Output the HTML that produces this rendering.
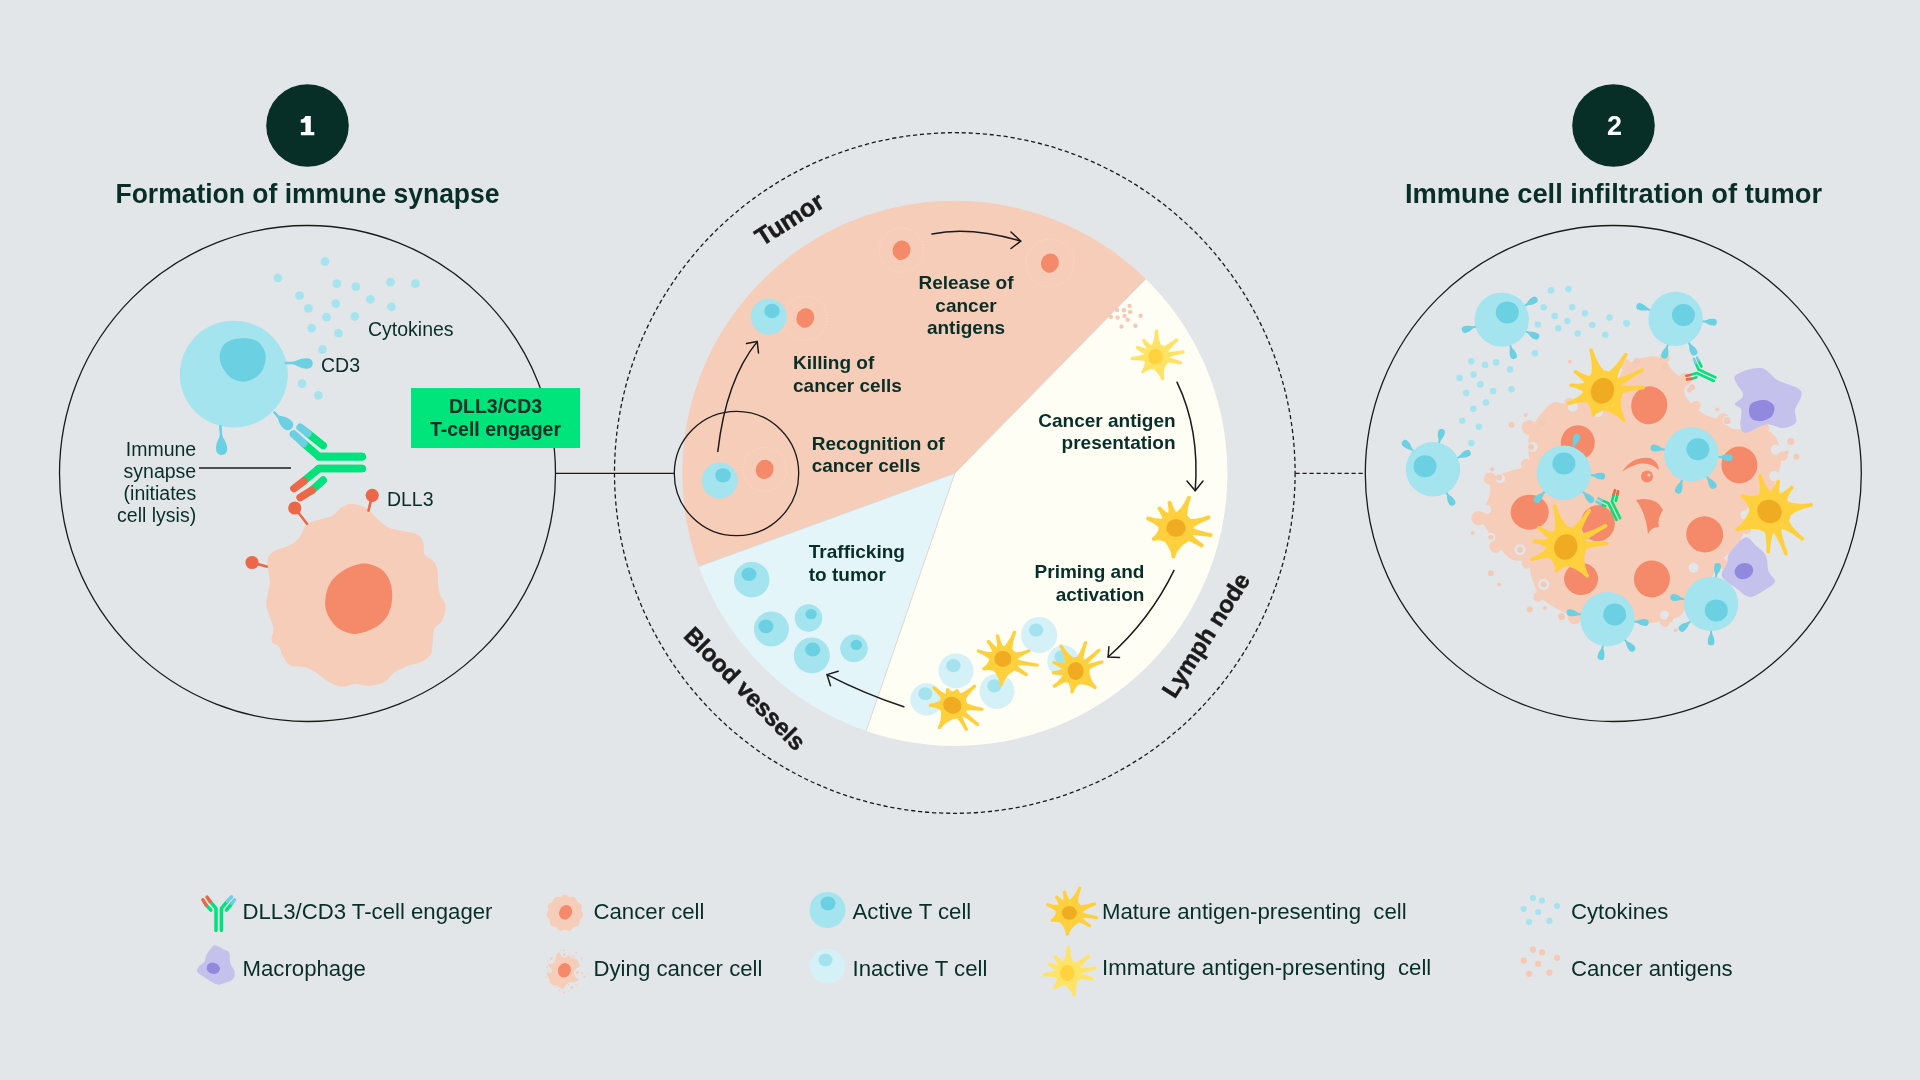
<!DOCTYPE html>
<html><head><meta charset="utf-8"><title>Immune synapse</title>
<style>html,body{margin:0;padding:0;background:#e3e6e9;}svg{display:block;font-family:"Liberation Sans",sans-serif;will-change:transform;}</style>
</head><body>
<svg width="1920" height="1080" viewBox="0 0 1920 1080">
<rect width="1920" height="1080" fill="#e3e6e9"/>
<circle cx="307.5" cy="125.5" r="41.3" fill="#082e28"/>
<path d="M305.4 115.9 L310.8 115.9 L310.8 131.9 L314.3 131.9 L314.3 135.2 L300.9 135.2 L300.9 131.9 L305.4 131.9 L305.4 122.6 Q302.8 122.9 300.8 122.8 L300.8 119.4 Q304.2 119.2 305.4 115.9 Z" fill="#ffffff"/>
<text x="307.5" y="203.3" font-size="27.5" font-weight="bold" text-anchor="middle" fill="#082e28" textLength="384" lengthAdjust="spacingAndGlyphs">Formation of immune synapse</text>
<circle cx="1613.5" cy="125.5" r="41.3" fill="#082e28"/>
<text x="1614.5" y="135" font-size="27" font-weight="bold" text-anchor="middle" fill="#ffffff">2</text>
<text x="1613.5" y="203.3" font-size="27.5" font-weight="bold" text-anchor="middle" fill="#082e28" textLength="417" lengthAdjust="spacingAndGlyphs">Immune cell infiltration of tumor</text>
<circle cx="307.5" cy="473.5" r="248" fill="none" stroke="#1a1a1a" stroke-width="1.3"/>
<circle cx="1613.3" cy="473.5" r="248" fill="none" stroke="#1a1a1a" stroke-width="1.3"/>
<line x1="555.5" y1="473.3" x2="674.3" y2="473.3" stroke="#1a1a1a" stroke-width="1.3"/>
<line x1="1295.5" y1="473.3" x2="1365" y2="473.3" stroke="#1a1a1a" stroke-width="1.3" stroke-dasharray="4.2 2.8"/>
<circle cx="954.8" cy="473" r="340.3" fill="none" stroke="#1a1a1a" stroke-width="1.3" stroke-dasharray="4.2 2.8"/>
<path d="M954.8 473.3 L698.7 566.5 A272.5 272.5 0 0 1 1145.8 278.9 Z" fill="#f6cdb9"/>
<path d="M954.8 473.3 L1145.8 278.9 A272.5 272.5 0 0 1 866.1 731 Z" fill="#fefef5"/>
<path d="M954.8 473.3 L866.1 731 A272.5 272.5 0 0 1 698.7 566.5 Z" fill="#e4f5f9"/>
<line x1="954.8" y1="473.3" x2="1145.8" y2="278.9" stroke="#dcd9d2" stroke-width="1"/>
<line x1="954.8" y1="473.3" x2="698.7" y2="566.5" stroke="#dcd9d2" stroke-width="1"/>
<line x1="954.8" y1="473.3" x2="866.1" y2="731" stroke="#dcd9d2" stroke-width="1"/>
<circle cx="736.5" cy="473.5" r="62.2" fill="none" stroke="#1a1a1a" stroke-width="1.3"/>
<path d="M717.8 451.5 Q726 380 757.2 341.6" fill="none" stroke="#1a1a1a" stroke-width="1.5" stroke-linecap="round"/>
<path d="M746.5 343.5 L757.2 341.6 L758.5 353" fill="none" stroke="#1a1a1a" stroke-width="1.5" stroke-linecap="round" stroke-linejoin="round"/>
<path d="M932 234 Q970 226 1020.7 241.1" fill="none" stroke="#1a1a1a" stroke-width="1.5" stroke-linecap="round"/>
<path d="M1011 232 L1020.7 241.1 L1011 248.5" fill="none" stroke="#1a1a1a" stroke-width="1.5" stroke-linecap="round" stroke-linejoin="round"/>
<path d="M1177 382.2 Q1200 430 1195.2 490.7" fill="none" stroke="#1a1a1a" stroke-width="1.5" stroke-linecap="round"/>
<path d="M1187 481 L1195.2 490.7 L1203 481" fill="none" stroke="#1a1a1a" stroke-width="1.5" stroke-linecap="round" stroke-linejoin="round"/>
<path d="M1174 570.4 Q1150 620 1108.1 657" fill="none" stroke="#1a1a1a" stroke-width="1.5" stroke-linecap="round"/>
<path d="M1108.9 646.8 L1108.1 657 L1119.5 657.5" fill="none" stroke="#1a1a1a" stroke-width="1.5" stroke-linecap="round" stroke-linejoin="round"/>
<path d="M903.8 706.8 Q865 694 827 674.6" fill="none" stroke="#1a1a1a" stroke-width="1.5" stroke-linecap="round"/>
<path d="M838.2 671.2 L827 674.6 L830.5 685.7" fill="none" stroke="#1a1a1a" stroke-width="1.5" stroke-linecap="round" stroke-linejoin="round"/>
<circle cx="764.6" cy="469.4" r="22" fill="none" stroke="#fadfd0" stroke-width="0.9" stroke-dasharray="1 2.2"/>
<circle cx="805.3" cy="318" r="22" fill="none" stroke="#fadfd0" stroke-width="0.9" stroke-dasharray="1 2.2"/>
<circle cx="901.5" cy="250.2" r="22" fill="none" stroke="#fadfd0" stroke-width="0.9" stroke-dasharray="1 2.2"/>
<circle cx="1049.9" cy="263.1" r="24" fill="none" stroke="#fadfd0" stroke-width="0.9" stroke-dasharray="1 2.2"/>
<ellipse cx="764.6" cy="469.4" rx="8.8" ry="9.8" fill="#f48a6a" transform="rotate(20 764.6 469.4)"/>
<ellipse cx="805.3" cy="318" rx="8.8" ry="9.8" fill="#f48a6a" transform="rotate(20 805.3 318)"/>
<ellipse cx="901.5" cy="250.2" rx="8.8" ry="9.8" fill="#f48a6a" transform="rotate(20 901.5 250.2)"/>
<ellipse cx="1049.9" cy="263.1" rx="8.8" ry="9.8" fill="#f48a6a" transform="rotate(20 1049.9 263.1)"/>
<circle cx="719.7" cy="480.5" r="18" fill="#a3e4ee"/>
<ellipse cx="723" cy="475.4" rx="7.8" ry="7.2" fill="#6bd0e1"/>
<circle cx="768.7" cy="316.7" r="18" fill="#a3e4ee"/>
<ellipse cx="772" cy="311" rx="7.8" ry="7.2" fill="#6bd0e1"/>
<circle cx="1129.6" cy="305.9" r="2.2" fill="#f4c9b5"/>
<circle cx="1123.9" cy="310.2" r="2.2" fill="#f4c9b5"/>
<circle cx="1130.1" cy="311.9" r="2.2" fill="#f4c9b5"/>
<circle cx="1117.1" cy="309.9" r="2.2" fill="#f4c9b5"/>
<circle cx="1124.5" cy="315.9" r="2.2" fill="#f4c9b5"/>
<circle cx="1117.6" cy="317.6" r="2.2" fill="#f4c9b5"/>
<circle cx="1110.9" cy="316.9" r="2.2" fill="#f4c9b5"/>
<circle cx="1127.6" cy="319.8" r="2.2" fill="#f4c9b5"/>
<circle cx="1140.6" cy="315.7" r="2.2" fill="#f4c9b5"/>
<circle cx="1121.5" cy="326.6" r="2.2" fill="#f4c9b5"/>
<circle cx="1135.4" cy="325.8" r="2.2" fill="#f4c9b5"/>
<path d="M1143.8 353.9C1141.3 351.8 1137.9 349.9 1137 349.4A1.8 1.8 0 0 1 1138.5 346.1C1139.5 346.6 1143.1 348 1146.3 348.6A13 13 0 0 1 1146.3 348.6C1145.1 345.6 1142.9 342.4 1142.3 341.6A1.8 1.8 0 0 1 1145.1 339.4C1145.8 340.2 1148.3 343 1151 344.9A13 13 0 0 1 1152.2 344.4C1154.4 339.4 1154.7 333.7 1154.7 331.2A1.8 1.8 0 0 1 1158.3 331.2C1158.3 333.7 1158.6 339.4 1160.8 344.4A13 13 0 0 1 1164.1 346.1C1168.7 343.9 1173.6 340.2 1175.8 338.5A1.8 1.8 0 0 1 1178.1 341.2C1175.9 343 1171.4 347.1 1168.3 351.2A13 13 0 0 1 1168.5 351.8C1173.6 351.6 1179.8 350.7 1182.6 350.2A1.8 1.8 0 0 1 1183.2 353.8C1180.4 354.3 1174.3 355.6 1169.5 357.2A13 13 0 0 1 1169.5 357.2C1173.5 358.9 1178.6 360.5 1180.7 361A1.8 1.8 0 0 1 1179.8 364.5C1177.7 364 1172.5 362.9 1168.1 362.5A13 13 0 0 1 1165.6 366C1163.3 371.9 1163.8 376.5 1164.3 378.1A1.8 1.8 0 0 1 1160.8 379C1160.4 377.5 1158.5 373.2 1153.5 369.3A13 13 0 0 1 1151.9 368.9C1147.5 369.7 1144.8 372.1 1144.2 372.8A1.8 1.8 0 0 1 1141.6 370.4C1142.2 369.7 1144.4 366.9 1144.8 362.4A13 13 0 0 1 1144.2 360.9C1139.8 360 1134.5 360.1 1132.4 360.3A1.8 1.8 0 0 1 1132.2 356.7C1134.3 356.5 1139.5 355.9 1143.7 354.3A13 13 0 0 1 1143.8 353.9Z" fill="#ffe366"/>
<ellipse cx="1155.5" cy="356.7" rx="7.2" ry="7.9" fill="#ffd23e"/>
<path d="M1158.6 527.4C1154.7 523.6 1149.4 521.3 1147.3 520.5A2.1 2.1 0 0 1 1148.8 516.6C1150.9 517.3 1156.4 519 1161.8 518.7A17.5 17.5 0 0 1 1162.3 518C1161.1 514.3 1158.7 510.8 1158 510A2.1 2.1 0 0 1 1161.3 507.3C1161.9 508.2 1164.9 511.3 1168.3 513.2A17.5 17.5 0 0 1 1168.3 513.2C1168.7 509 1167.9 504.3 1167.6 502.9A2.1 2.1 0 0 1 1171.6 501.9C1172 503.4 1173.4 507.9 1175.7 511.4A17.5 17.5 0 0 1 1177.4 511.5C1182.7 506.7 1185.8 499.9 1187.2 496.7A2.1 2.1 0 0 1 1191 498.3C1189.7 501.6 1187.1 508.5 1187.4 515.7A17.5 17.5 0 0 1 1190.4 519C1197.1 518.9 1204.3 516.6 1207.7 515.4A2.1 2.1 0 0 1 1209.1 519.4C1205.7 520.6 1198.7 523.4 1193.4 527.5A17.5 17.5 0 0 1 1193.5 528.5C1199.5 530.7 1207.3 532.4 1211.1 533.1A2.1 2.1 0 0 1 1210.4 537.2C1206.6 536.5 1198.7 535.4 1192.3 535.3A17.5 17.5 0 0 1 1192.3 535.3C1195.8 538.8 1200.7 542.4 1202.8 543.7A2.1 2.1 0 0 1 1200.5 547.2C1198.5 545.9 1193.2 542.9 1188.5 541.1A17.5 17.5 0 0 1 1183.3 544.8C1177.5 550.3 1175.6 555 1175.5 556.5A2.1 2.1 0 0 1 1171.3 556.1C1171.5 554.6 1170.5 549.6 1165.8 543.1A17.5 17.5 0 0 1 1164 541.6C1158.7 539.5 1155.3 540.5 1154.8 540.8A2.1 2.1 0 0 1 1153.1 536.9C1153.6 536.7 1156.6 534.8 1158.5 529.5A17.5 17.5 0 0 1 1158.6 527.4Z" fill="#ffd03d"/>
<ellipse cx="1176" cy="527.9" rx="9.7" ry="8.9" fill="#efab22"/>
<circle cx="926.6" cy="699.4" r="16.2" fill="#d3f1f6"/>
<ellipse cx="925.3" cy="693.6" rx="7" ry="6.4" fill="#a4e3ee"/>
<circle cx="956" cy="670.9" r="17.5" fill="#d3f1f6"/>
<ellipse cx="953.4" cy="665.7" rx="7.2" ry="6.6" fill="#a4e3ee"/>
<circle cx="997" cy="691.4" r="17.5" fill="#d3f1f6"/>
<ellipse cx="994.4" cy="685.8" rx="7.2" ry="6.6" fill="#a4e3ee"/>
<circle cx="1039.1" cy="635" r="18" fill="#d3f1f6"/>
<ellipse cx="1036.1" cy="630.1" rx="7.2" ry="6.6" fill="#a4e3ee"/>
<circle cx="1063.3" cy="661.2" r="16" fill="#d3f1f6"/>
<ellipse cx="1061.4" cy="656.7" rx="7" ry="6.4" fill="#a4e3ee"/>
<path d="M940.9 698.6C938.5 694.5 934.5 690.6 932.6 689A1.7 1.7 0 0 1 934.9 686.5C936.7 688.1 941.1 691.6 945.4 693.7A14 14 0 0 1 945.4 693.7C946.1 691.6 945.7 690 945.9 690.4A1.7 1.7 0 0 1 949.1 689.2C948.9 688.8 949.8 690.2 951.6 691.3A14 14 0 0 1 953 691.2C955.2 690.4 955.8 689.5 955.5 690.4A1.7 1.7 0 0 1 958.8 691.3C959 690.4 959 691.4 960.6 693.3A14 14 0 0 1 960.6 693.3C966 691.1 971 687 973.3 684.9A1.7 1.7 0 0 1 975.6 687.4C973.2 689.5 968.6 694 965.9 699.2A14 14 0 0 1 967.2 703.5C972.4 705.9 979 707.1 982.3 707.6A1.7 1.7 0 0 1 981.8 710.9C978.5 710.5 971.8 709.8 966.2 710.7A14 14 0 0 1 965.8 711.5C969.9 715.8 975.6 720.6 978.6 723A1.7 1.7 0 0 1 976.5 725.7C973.5 723.3 967.5 718.9 962.3 715.9A14 14 0 0 1 962.3 715.9C963.8 720.6 966.4 726 967.8 728.5A1.7 1.7 0 0 1 964.8 730.1C963.5 727.6 960.4 722.4 957.3 718.6A14 14 0 0 1 952.6 719.2C946 722.2 942.1 726.5 940.7 728.7A1.7 1.7 0 0 1 937.9 726.9C939.2 724.7 941.4 719.3 941.1 712A14 14 0 0 1 940.2 710.2C936.1 707.2 931.9 706.9 930.5 706.9A1.7 1.7 0 0 1 930.5 703.5C931.9 703.5 936.1 703.2 940.2 700.2A14 14 0 0 1 940.9 698.6Z" fill="#ffd03d"/>
<ellipse cx="952.3" cy="705.2" rx="9.3" ry="8.3" fill="#efab22" transform="rotate(20 952.3 705.2)"/>
<path d="M989 659.1C985.2 655.7 980.1 653.5 977.8 652.6A1.7 1.7 0 0 1 979 649.4C981.3 650.3 986.6 652 991.7 651.9A14.5 14.5 0 0 1 992.2 651.3C990.8 647.7 988.2 644 987.1 642.7A1.7 1.7 0 0 1 989.8 640.6C990.8 641.9 993.8 645.3 997 647.5A14.5 14.5 0 0 1 997 647.5C997.2 643.3 996.2 638.4 995.8 636.5A1.7 1.7 0 0 1 999.1 635.6C999.5 637.6 1001 642.3 1003 646A14.5 14.5 0 0 1 1004.4 646C1008.8 641.4 1011.6 635 1012.9 631.7A1.7 1.7 0 0 1 1016.1 632.9C1014.8 636.2 1012.4 642.8 1012.5 649.2A14.5 14.5 0 0 1 1015.3 652.3C1020.4 652.1 1025.9 650.3 1028.3 649.4A1.7 1.7 0 0 1 1029.5 652.6C1027 653.5 1021.7 655.8 1017.8 658.9A14.5 14.5 0 0 1 1017.9 659.5C1024.3 661.4 1032.7 662.8 1037.3 663.4A1.7 1.7 0 0 1 1036.9 666.8C1032.3 666.1 1023.8 665.2 1017.1 665.3A14.5 14.5 0 0 1 1017.1 665.3C1020.4 668.6 1025.1 671.7 1027.3 673.1A1.7 1.7 0 0 1 1025.6 676C1023.4 674.6 1018.4 671.9 1014 670.4A14.5 14.5 0 0 1 1009.8 673.5C1004.9 678.5 1003.3 682.9 1003.1 684.5A1.7 1.7 0 0 1 999.7 684.3C999.9 682.6 999 678.1 994.9 672.3A14.5 14.5 0 0 1 993.2 670.8C988.5 669.2 985.2 670.1 984.3 670.5A1.7 1.7 0 0 1 983 667.4C983.8 667 986.8 665.3 988.9 660.8A14.5 14.5 0 0 1 989 659.1Z" fill="#ffd03d"/>
<ellipse cx="1002.9" cy="658.9" rx="8.5" ry="8" fill="#efab22" transform="rotate(0 1002.9 658.9)"/>
<path d="M1061.9 669C1058.9 666.5 1054.9 664.7 1053.4 664.1A1.7 1.7 0 0 1 1054.6 660.9C1056.1 661.5 1060.3 662.9 1064.1 663.1A14 14 0 0 1 1065 661.9C1064.4 655.6 1061.2 649.6 1059.5 646.7A1.7 1.7 0 0 1 1062.4 645C1064.1 647.9 1067.7 653.6 1073 657.3A14 14 0 0 1 1076.9 657C1080.2 652.2 1082.8 645.6 1083.9 642.2A1.7 1.7 0 0 1 1087.1 643.4C1086 646.7 1083.9 653.5 1083.5 659.4A14 14 0 0 1 1084.1 659.8C1089.1 656.4 1094.9 651.5 1097.9 648.9A1.7 1.7 0 0 1 1100.2 651.4C1097.2 654.1 1091.7 659.3 1087.8 663.9A14 14 0 0 1 1087.8 663.9C1092.6 663 1098.6 661.2 1101.3 660.3A1.7 1.7 0 0 1 1102.5 663.5C1099.7 664.4 1093.9 666.7 1089.6 669.1A14 14 0 0 1 1089.5 673.5C1091.2 680.5 1094.5 684.7 1096.2 686.1A1.7 1.7 0 0 1 1094 688.7C1092.3 687.3 1087.6 684.7 1080.5 684.2A14 14 0 0 1 1078.8 684.7C1074.9 687.8 1073.9 691.3 1073.8 692.3A1.7 1.7 0 0 1 1070.4 691.7C1070.6 690.7 1070.8 687.1 1068.3 682.9A14 14 0 0 1 1066.9 681.9C1062 683.1 1057.4 686.2 1055.4 687.6A1.7 1.7 0 0 1 1053.4 684.8C1055.4 683.4 1059.8 680 1062.5 675.8A14 14 0 0 1 1062.3 675.2C1058.9 674.3 1054.8 674.4 1053.5 674.5A1.7 1.7 0 0 1 1053.3 671.1C1054.6 671 1058.6 670.4 1061.9 669A14 14 0 0 1 1061.9 669Z" fill="#ffd03d"/>
<ellipse cx="1075.7" cy="671" rx="8" ry="9" fill="#efab22" transform="rotate(0 1075.7 671)"/>
<circle cx="751.7" cy="579.6" r="17.8" fill="#a3e4ee"/>
<ellipse cx="749" cy="574.3" rx="7.4" ry="6.8" fill="#6bd0e1"/>
<circle cx="771.4" cy="629" r="17.5" fill="#a3e4ee"/>
<ellipse cx="766" cy="626.4" rx="7.4" ry="6.8" fill="#6bd0e1"/>
<circle cx="808.5" cy="618" r="13.8" fill="#a3e4ee"/>
<ellipse cx="811.1" cy="614.1" rx="5.7" ry="5.2" fill="#6bd0e1"/>
<circle cx="811.8" cy="655.4" r="18" fill="#a3e4ee"/>
<ellipse cx="812.7" cy="649.6" rx="7.6" ry="7" fill="#6bd0e1"/>
<circle cx="854" cy="648.4" r="13.8" fill="#a3e4ee"/>
<ellipse cx="856.3" cy="644.9" rx="5.7" ry="5.2" fill="#6bd0e1"/>
<text x="966" y="289.3" font-size="19" font-weight="bold" text-anchor="middle" fill="#082e28">Release of</text>
<text x="966" y="312.4" font-size="19" font-weight="bold" text-anchor="middle" fill="#082e28">cancer</text>
<text x="966" y="334.4" font-size="19" font-weight="bold" text-anchor="middle" fill="#082e28">antigens</text>
<text x="793" y="368.8" font-size="19" font-weight="bold" text-anchor="start" fill="#082e28">Killing of</text>
<text x="793" y="391.8" font-size="19" font-weight="bold" text-anchor="start" fill="#082e28">cancer cells</text>
<text x="811.7" y="449.9" font-size="19" font-weight="bold" text-anchor="start" fill="#082e28">Recognition of</text>
<text x="811.7" y="472.4" font-size="19" font-weight="bold" text-anchor="start" fill="#082e28">cancer cells</text>
<text x="1175.6" y="426.7" font-size="19" font-weight="bold" text-anchor="end" fill="#082e28">Cancer antigen</text>
<text x="1175.6" y="449.2" font-size="19" font-weight="bold" text-anchor="end" fill="#082e28">presentation</text>
<text x="808.8" y="557.8" font-size="19" font-weight="bold" text-anchor="start" fill="#082e28">Trafficking</text>
<text x="808.8" y="581" font-size="19" font-weight="bold" text-anchor="start" fill="#082e28">to tumor</text>
<text x="1144.4" y="578" font-size="19" font-weight="bold" text-anchor="end" fill="#082e28">Priming and</text>
<text x="1144.4" y="600.7" font-size="19" font-weight="bold" text-anchor="end" fill="#082e28">activation</text>
<text transform="translate(793.9 226.4) rotate(-32.5)" font-size="25" font-weight="bold" text-anchor="middle" fill="#1b1b1b" stroke="#1b1b1b" stroke-width="0.5">Tumor</text>
<text transform="translate(739 694.4) rotate(45.5)" font-size="24" font-weight="bold" text-anchor="middle" fill="#1b1b1b" stroke="#1b1b1b" stroke-width="0.5">Blood vessels</text>
<text transform="translate(1212.9 639.6) rotate(-57.5)" font-size="24" font-weight="bold" text-anchor="middle" fill="#1b1b1b" stroke="#1b1b1b" stroke-width="0.5">Lymph node</text>
<circle cx="325" cy="261.5" r="4.4" fill="#a5e4ee"/>
<circle cx="277.9" cy="277.8" r="4.4" fill="#a5e4ee"/>
<circle cx="336.9" cy="283.7" r="4.4" fill="#a5e4ee"/>
<circle cx="355.9" cy="286.7" r="4.4" fill="#a5e4ee"/>
<circle cx="390.5" cy="282.2" r="4.4" fill="#a5e4ee"/>
<circle cx="415.4" cy="283.7" r="4.4" fill="#a5e4ee"/>
<circle cx="299.6" cy="295.6" r="4.4" fill="#a5e4ee"/>
<circle cx="335.7" cy="303.6" r="4.4" fill="#a5e4ee"/>
<circle cx="370.4" cy="299.4" r="4.4" fill="#a5e4ee"/>
<circle cx="391.4" cy="306.8" r="4.4" fill="#a5e4ee"/>
<circle cx="308.4" cy="308.3" r="4.4" fill="#a5e4ee"/>
<circle cx="326.5" cy="317.2" r="4.4" fill="#a5e4ee"/>
<circle cx="354.7" cy="316.3" r="4.4" fill="#a5e4ee"/>
<circle cx="311.7" cy="328.1" r="4.4" fill="#a5e4ee"/>
<circle cx="338.4" cy="333.2" r="4.4" fill="#a5e4ee"/>
<circle cx="322.4" cy="349.5" r="4.4" fill="#a5e4ee"/>
<circle cx="302" cy="383.6" r="4.4" fill="#a5e4ee"/>
<circle cx="318.4" cy="395.3" r="4.4" fill="#a5e4ee"/>
<text x="368" y="336" font-size="19.5" font-weight="normal" text-anchor="start" fill="#082e28">Cytokines</text>
<text x="321" y="372.1" font-size="19.5" font-weight="normal" text-anchor="start" fill="#082e28">CD3</text>
<ellipse cx="233.8" cy="374.2" rx="54" ry="53.4" fill="#a3e4ee"/>
<path d="M243.1 338.3C248 338.3 253.8 338.9 257.5 341.5C261.2 344.1 264.6 349.4 265.5 354C266.4 358.6 264.9 364.9 263 369C261.1 373.1 257.5 376.4 254 378.5C250.5 380.6 246.1 381.9 242.1 381.6C238.1 381.4 233.5 379.9 230 377C226.5 374.1 222.6 368.3 221 364C219.4 359.7 219.3 354.8 220.5 351C221.7 347.2 224.2 343.6 228 341.5C231.8 339.4 238.2 338.3 243.1 338.3Z" fill="#6bd0e1"/>
<line x1="286" y1="363" x2="292" y2="363" stroke="#6bd0e1" stroke-width="2.6" stroke-linecap="round"/>
<path d="M0 -1.3 C4.7 -1.6 7 -5.3 15.5 -5.3 A5.3 5.3 0 1 1 15.5 5.3 C7 5.3 4.7 1.6 0 1.3 Z" fill="#6bd0e1" transform="translate(292 363) rotate(1.8)"/>
<line x1="220.4" y1="426" x2="221" y2="435" stroke="#6bd0e1" stroke-width="2.6" stroke-linecap="round"/>
<path d="M0 -1.3 C4.4 -1.6 5.6 -5.6 14.5 -5.6 A5.6 5.6 0 1 1 14.5 5.6 C5.6 5.6 4.4 1.6 0 1.3 Z" fill="#6bd0e1" transform="translate(221 435) rotate(87.2)"/>
<line x1="274.5" y1="412.5" x2="277.5" y2="416" stroke="#6bd0e1" stroke-width="2.6" stroke-linecap="round"/>
<path d="M0 -1.3 C4.1 -1.6 4.7 -5.5 13.5 -5.5 A5.5 5.5 0 1 1 13.5 5.5 C4.7 5.5 4.1 1.6 0 1.3 Z" fill="#6bd0e1" transform="translate(277.5 416) rotate(40.5)"/>
<line x1="319" y1="456.7" x2="362" y2="456.7" stroke="#00e27b" stroke-width="7.7" stroke-linecap="round"/>
<line x1="319" y1="468.5" x2="362" y2="468.5" stroke="#00e27b" stroke-width="7.7" stroke-linecap="round"/>
<path d="M362 456.7 L319 456.7 L303.7 443.4" fill="none" stroke="#00e27b" stroke-width="7.7" stroke-linecap="round" stroke-linejoin="round"/>
<path d="M362 468.5 L319 468.5 L303.7 481.1" fill="none" stroke="#00e27b" stroke-width="7.7" stroke-linecap="round" stroke-linejoin="round"/>
<line x1="303.7" y1="443.4" x2="293.5" y2="434.2" stroke="#6bd0e1" stroke-width="7.7" stroke-linecap="round"/>
<line x1="323.1" y1="445.5" x2="307.8" y2="433.3" stroke="#00e27b" stroke-width="7.7" stroke-linecap="round"/>
<line x1="307.8" y1="433.3" x2="300.2" y2="427.3" stroke="#6bd0e1" stroke-width="7.7" stroke-linecap="round"/>
<line x1="303.7" y1="481.1" x2="294" y2="488.5" stroke="#ec6748" stroke-width="7.7" stroke-linecap="round"/>
<line x1="323.1" y1="480.1" x2="311.9" y2="490.3" stroke="#00e27b" stroke-width="7.7" stroke-linecap="round"/>
<line x1="311.9" y1="490.3" x2="300.2" y2="497.5" stroke="#ec6748" stroke-width="7.7" stroke-linecap="round"/>
<line x1="199" y1="468" x2="291" y2="468" stroke="#1a1a1a" stroke-width="1.3"/>
<text x="196.2" y="455.7" font-size="19.5" font-weight="normal" text-anchor="end" fill="#082e28">Immune</text>
<text x="196.2" y="477.9" font-size="19.5" font-weight="normal" text-anchor="end" fill="#082e28">synapse</text>
<text x="196.2" y="500.1" font-size="19.5" font-weight="normal" text-anchor="end" fill="#082e28">(initiates</text>
<text x="196.2" y="522.3" font-size="19.5" font-weight="normal" text-anchor="end" fill="#082e28">cell lysis)</text>
<path d="M351.3 503.9C355.3 504 361.8 505.4 366.1 508C370.4 510.5 373.5 515.8 377.2 519.1C380.9 522.3 384 525.4 388.3 527.4C392.7 529.4 398.2 529.9 403.1 531.1C408.1 532.3 414.6 532.8 418 534.8C421.4 536.8 422.4 539.9 423.5 543.1C424.6 546.4 422.9 551.3 424.4 554.3C426 557.2 430.6 558.3 432.8 560.7C434.9 563.2 436.5 565.2 437.4 569.1C438.3 572.9 437.9 579.6 438.3 583.9C438.8 588.2 439 591.3 440.2 595C441.4 598.7 445.4 601.8 445.7 606.1C446 610.4 443.9 617.2 442 620.9C440.2 624.6 436.2 624.9 434.6 628.3C433.1 631.7 433.4 637 432.8 641.3C432.2 645.6 432.8 650.9 430.9 654.3C429.1 657.7 425.7 659.7 421.7 661.7C417.7 663.7 411.5 664.4 406.9 666.3C402.2 668.1 397.6 670.2 393.9 672.8C390.2 675.4 388.6 679.9 384.6 682C380.6 684.2 374.8 685.4 369.8 685.7C364.9 686 359.6 683.7 355 683.9C350.4 684 346.4 687 342 686.7C337.7 686.4 333.4 684.4 329.1 682C324.8 679.7 320.1 675.2 316.1 672.8C312.1 670.3 309.3 668.5 305 667.2C300.7 666 293.9 667.2 290.2 665.4C286.5 663.5 284.6 659.2 282.8 656.1C280.9 653 280.9 649.3 279.1 646.9C277.2 644.4 272.6 644.4 271.7 641.3C270.7 638.2 273.8 632.3 273.5 628.3C273.2 624.3 271 621.2 269.8 617.2C268.6 613.2 266.4 608.3 266.1 604.3C265.8 600.2 267.3 596.9 268 593.1C268.6 589.4 269.8 586 269.8 582C269.8 578 268.3 573.1 268 569.1C267.7 565.1 266.7 561 268 558C269.2 554.9 271.7 552.7 275.4 550.6C279.1 548.4 286.2 547.2 290.2 545C294.2 542.8 296.7 541 299.4 537.6C302.2 534.2 303.1 527.7 306.9 524.6C310.6 521.5 317.3 520.6 321.7 519.1C326 517.5 329.4 517.4 332.8 515.4C336.2 513.4 339 509 342 507C345.1 505.1 347.3 503.7 351.3 503.9Z" fill="#f6cdb9"/>
<path d="M364.3 563.5C370.1 563.5 376.6 566 380.9 569.1C385.2 572.2 388.3 576.8 390.2 582C392 587.3 392.7 594.7 392 600.6C391.4 606.4 389.6 612.6 386.5 617.2C383.4 621.9 378.8 625.6 373.5 628.3C368.3 631.1 360.9 633.9 355 633.9C349.1 633.9 343 631.7 338.3 628.3C333.7 624.9 329.4 618.5 327.2 613.5C325.1 608.6 324.8 604 325.4 598.7C326 593.5 327.5 587 330.9 582C334.3 577.1 340.2 572.2 345.7 569.1C351.3 566 358.4 563.5 364.3 563.5Z" fill="#f48a6a"/>
<line x1="294.8" y1="508" x2="307" y2="523.8" stroke="#ec6748" stroke-width="2.6" stroke-linecap="round"/>
<circle cx="294.8" cy="508" r="6.6" fill="#ec6748"/>
<line x1="372.2" y1="495.3" x2="368.5" y2="510.6" stroke="#ec6748" stroke-width="2.6" stroke-linecap="round"/>
<circle cx="372.2" cy="495.3" r="6.6" fill="#ec6748"/>
<line x1="252" y1="562.5" x2="266.7" y2="566.6" stroke="#ec6748" stroke-width="2.6" stroke-linecap="round"/>
<circle cx="252" cy="562.5" r="6.6" fill="#ec6748"/>
<text x="386.9" y="505.6" font-size="19.5" font-weight="normal" text-anchor="start" fill="#082e28">DLL3</text>
<rect x="411" y="388" width="169" height="60" fill="#00e47c"/>
<text x="495.5" y="412.8" font-size="19.5" font-weight="bold" text-anchor="middle" fill="#082e28">DLL3/CD3</text>
<text x="495.5" y="435.7" font-size="19.5" font-weight="bold" text-anchor="middle" fill="#082e28">T-cell engager</text>
<path d="M1625.6 366.4C1632 359.9 1641.3 357.8 1647.8 356.7C1654.3 355.5 1660.3 357.1 1664.4 359.4C1668.6 361.8 1669.5 366.9 1672.8 370.6C1676 374.3 1681.8 377.5 1683.9 381.7C1686 385.8 1683.4 391.4 1685.3 395.6C1687.1 399.7 1691.5 403.4 1695 406.7C1698.5 409.9 1701.7 412.7 1706.1 415C1710.5 417.3 1716.8 418.2 1721.4 420.6C1726 422.9 1727.2 427.5 1733.9 428.9C1740.6 430.3 1754.7 427.5 1761.7 428.9C1768.6 430.3 1772.3 432.6 1775.6 437.2C1778.8 441.9 1780.6 450.6 1781.1 456.7C1781.6 462.7 1780.2 467.8 1778.3 473.3C1776.5 478.9 1775.1 484.4 1770 490C1764.9 495.6 1751.9 500.2 1747.8 506.7C1743.6 513.1 1746.9 522.4 1745 528.9C1743.1 535.4 1740.8 540 1736.7 545.6C1732.5 551.1 1724.6 556.2 1720 562.2C1715.4 568.2 1713.5 576.1 1708.9 581.7C1704.3 587.2 1696.9 590 1692.2 595.6C1687.6 601.1 1685.7 610.8 1681.1 615C1676.5 619.2 1670.9 619.2 1664.4 620.6C1658 621.9 1648.7 624.3 1642.2 623.3C1635.7 622.4 1632.5 618.2 1625.6 615C1618.6 611.8 1608.9 603.9 1600.6 603.9C1592.2 603.9 1583.4 614.5 1575.6 615C1567.7 615.5 1559.4 609.9 1553.3 606.7C1547.3 603.4 1543.1 600.6 1539.4 595.6C1535.7 590.5 1533 581.7 1531.1 576.1C1529.3 570.6 1531.6 565 1528.3 562.2C1525.1 559.4 1516.8 562.2 1511.7 559.4C1506.6 556.7 1501.9 550.6 1497.8 545.6C1493.6 540.5 1489.4 533.5 1486.7 528.9C1483.9 524.3 1480.6 523.3 1481.1 517.8C1481.6 512.2 1487.6 502 1489.4 495.6C1491.3 489.1 1488.5 483.1 1492.2 478.9C1495.9 474.7 1505.6 472.9 1511.7 470.6C1517.7 468.2 1525.6 468.7 1528.3 465C1531.1 461.3 1527.9 454.4 1528.3 448.3C1528.8 442.3 1527.4 436.3 1531.1 428.9C1534.8 421.5 1544.1 408.1 1550.6 403.9C1557 399.7 1563.5 405.3 1570 403.9C1576.5 402.5 1583 396.9 1589.4 395.6C1595.9 394.2 1602.9 400.4 1608.9 395.6C1614.9 390.7 1619.1 372.9 1625.6 366.4Z" fill="#f6cdb9"/>
<circle cx="1625.5" cy="364.5" r="5.5" fill="#f6cdb9"/>
<circle cx="1664.9" cy="357.8" r="5" fill="#f6cdb9"/>
<circle cx="1684.9" cy="379.6" r="6.5" fill="#f6cdb9"/>
<circle cx="1696" cy="405.4" r="4.7" fill="#f6cdb9"/>
<circle cx="1723.1" cy="419.3" r="6.1" fill="#f6cdb9"/>
<circle cx="1763.4" cy="428.1" r="5.6" fill="#f6cdb9"/>
<circle cx="1782.7" cy="456.3" r="4.7" fill="#f6cdb9"/>
<circle cx="1772.1" cy="490" r="6" fill="#f6cdb9"/>
<circle cx="1746.5" cy="529.4" r="4.6" fill="#f6cdb9"/>
<circle cx="1721.6" cy="563.5" r="5.8" fill="#f6cdb9"/>
<circle cx="1693.1" cy="597" r="4.7" fill="#f6cdb9"/>
<circle cx="1664.9" cy="622.2" r="4.8" fill="#f6cdb9"/>
<circle cx="1625.5" cy="617" r="5.8" fill="#f6cdb9"/>
<circle cx="1574.6" cy="617.2" r="7" fill="#f6cdb9"/>
<circle cx="1538.3" cy="596.8" r="4.9" fill="#f6cdb9"/>
<circle cx="1526.9" cy="563.3" r="5.2" fill="#f6cdb9"/>
<circle cx="1495.7" cy="546.4" r="6.4" fill="#f6cdb9"/>
<circle cx="1478.6" cy="518.2" r="7.3" fill="#f6cdb9"/>
<circle cx="1490" cy="478.7" r="6.2" fill="#f6cdb9"/>
<circle cx="1526.4" cy="464.5" r="5.7" fill="#f6cdb9"/>
<circle cx="1528.9" cy="427.5" r="7.4" fill="#f6cdb9"/>
<circle cx="1569.1" cy="402.6" r="4.6" fill="#f6cdb9"/>
<circle cx="1608.3" cy="393.1" r="7.1" fill="#f6cdb9"/>
<circle cx="1520" cy="549.7" r="5.5" fill="#e3e6e9"/>
<circle cx="1543.6" cy="584.4" r="5.5" fill="#e3e6e9"/>
<circle cx="1490.8" cy="537.2" r="4.5" fill="#e3e6e9"/>
<circle cx="1532.5" cy="446.9" r="5" fill="#e3e6e9"/>
<circle cx="1500.6" cy="478.9" r="4.5" fill="#e3e6e9"/>
<circle cx="1689.4" cy="390" r="5" fill="#e3e6e9"/>
<circle cx="1726.9" cy="420.6" r="4.5" fill="#e3e6e9"/>
<circle cx="1775.6" cy="449.7" r="5" fill="#e3e6e9"/>
<circle cx="1774.2" cy="476.1" r="5" fill="#e3e6e9"/>
<circle cx="1693.6" cy="567.8" r="5" fill="#e3e6e9"/>
<circle cx="1664.4" cy="615" r="4.5" fill="#e3e6e9"/>
<circle cx="1486.7" cy="509.4" r="4.5" fill="#e3e6e9"/>
<circle cx="1572.8" cy="406.7" r="5" fill="#e3e6e9"/>
<circle cx="1597.8" cy="412.2" r="5" fill="#e3e6e9"/>
<circle cx="1745" cy="515" r="4.5" fill="#e3e6e9"/>
<circle cx="1736.7" cy="578.9" r="4" fill="#e3e6e9"/>
<circle cx="1570" cy="361.7" r="2" fill="#f4c9b5"/>
<circle cx="1636.7" cy="360.8" r="3" fill="#f4c9b5"/>
<circle cx="1664.4" cy="366.4" r="3" fill="#f4c9b5"/>
<circle cx="1692.2" cy="387.2" r="3" fill="#f4c9b5"/>
<circle cx="1717.2" cy="409.4" r="2" fill="#f4c9b5"/>
<circle cx="1726.9" cy="420.6" r="3.5" fill="#f4c9b5"/>
<circle cx="1790.8" cy="441.4" r="3.5" fill="#f4c9b5"/>
<circle cx="1796.4" cy="456.7" r="3" fill="#f4c9b5"/>
<circle cx="1786.7" cy="452.5" r="2" fill="#f4c9b5"/>
<circle cx="1525.6" cy="415" r="2" fill="#f4c9b5"/>
<circle cx="1511.7" cy="424.7" r="3" fill="#f4c9b5"/>
<circle cx="1542.2" cy="422.5" r="3" fill="#f4c9b5"/>
<circle cx="1531.1" cy="446.9" r="3" fill="#f4c9b5"/>
<circle cx="1492.2" cy="469.2" r="2" fill="#f4c9b5"/>
<circle cx="1499.2" cy="477.5" r="3" fill="#f4c9b5"/>
<circle cx="1472.8" cy="533.1" r="2" fill="#f4c9b5"/>
<circle cx="1490.8" cy="573.3" r="3" fill="#f4c9b5"/>
<circle cx="1499.2" cy="584.4" r="2" fill="#f4c9b5"/>
<circle cx="1529.7" cy="609.4" r="3" fill="#f4c9b5"/>
<circle cx="1545" cy="608.1" r="2" fill="#f4c9b5"/>
<circle cx="1561.7" cy="616.4" r="3.5" fill="#f4c9b5"/>
<circle cx="1670" cy="619.2" r="3" fill="#f4c9b5"/>
<circle cx="1675.6" cy="630.3" r="2" fill="#f4c9b5"/>
<circle cx="1520" cy="549.7" r="3" fill="#f4c9b5"/>
<circle cx="1543.6" cy="584.4" r="3" fill="#f4c9b5"/>
<circle cx="1490.8" cy="537.2" r="2.5" fill="#f4c9b5"/>
<circle cx="1689.4" cy="390" r="2.5" fill="#f4c9b5"/>
<circle cx="1551" cy="290.4" r="3.3" fill="#a5e4ee"/>
<circle cx="1568.5" cy="289.1" r="3.3" fill="#a5e4ee"/>
<circle cx="1543.6" cy="307.3" r="3.3" fill="#a5e4ee"/>
<circle cx="1572.2" cy="307.3" r="3.3" fill="#a5e4ee"/>
<circle cx="1584.9" cy="313.2" r="3.3" fill="#a5e4ee"/>
<circle cx="1609.4" cy="317.5" r="3.3" fill="#a5e4ee"/>
<circle cx="1626.3" cy="323.1" r="3.3" fill="#a5e4ee"/>
<circle cx="1554.7" cy="316.1" r="3.3" fill="#a5e4ee"/>
<circle cx="1567.4" cy="321" r="3.3" fill="#a5e4ee"/>
<circle cx="1592.3" cy="325" r="3.3" fill="#a5e4ee"/>
<circle cx="1537.8" cy="324.5" r="3.3" fill="#a5e4ee"/>
<circle cx="1558.2" cy="328.3" r="3.3" fill="#a5e4ee"/>
<circle cx="1577.7" cy="333.6" r="3.3" fill="#a5e4ee"/>
<circle cx="1605.3" cy="334.8" r="3.3" fill="#a5e4ee"/>
<circle cx="1534.9" cy="353.2" r="3.3" fill="#a5e4ee"/>
<circle cx="1471.3" cy="361.2" r="3.3" fill="#a5e4ee"/>
<circle cx="1484.9" cy="364.9" r="3.3" fill="#a5e4ee"/>
<circle cx="1496.2" cy="362.4" r="3.3" fill="#a5e4ee"/>
<circle cx="1510" cy="369.4" r="3.3" fill="#a5e4ee"/>
<circle cx="1459.6" cy="377.9" r="3.3" fill="#a5e4ee"/>
<circle cx="1473.6" cy="374.6" r="3.3" fill="#a5e4ee"/>
<circle cx="1480.4" cy="384.4" r="3.3" fill="#a5e4ee"/>
<circle cx="1493.1" cy="391" r="3.3" fill="#a5e4ee"/>
<circle cx="1511.5" cy="389.2" r="3.3" fill="#a5e4ee"/>
<circle cx="1466.2" cy="393.1" r="3.3" fill="#a5e4ee"/>
<circle cx="1485.9" cy="402.6" r="3.3" fill="#a5e4ee"/>
<circle cx="1473.2" cy="408.7" r="3.3" fill="#a5e4ee"/>
<circle cx="1462.3" cy="420.7" r="3.3" fill="#a5e4ee"/>
<circle cx="1478.9" cy="426.7" r="3.3" fill="#a5e4ee"/>
<circle cx="1471.3" cy="443.1" r="3.3" fill="#a5e4ee"/>
<circle cx="1626.7" cy="323.5" r="3.3" fill="#a5e4ee"/>
<ellipse cx="1649.2" cy="405.3" rx="18" ry="19" fill="#f48a6a" transform="rotate(15 1649.2 405.3)"/>
<ellipse cx="1577.8" cy="442.8" rx="17" ry="17.5" fill="#f48a6a" transform="rotate(10 1577.8 442.8)"/>
<ellipse cx="1739.4" cy="465" rx="18" ry="18.5" fill="#f48a6a" transform="rotate(0 1739.4 465)"/>
<ellipse cx="1529.7" cy="512.2" rx="19" ry="17.5" fill="#f48a6a" transform="rotate(0 1529.7 512.2)"/>
<ellipse cx="1597.8" cy="523.3" rx="17" ry="18" fill="#f48a6a" transform="rotate(0 1597.8 523.3)"/>
<ellipse cx="1704.7" cy="534.4" rx="18.5" ry="18" fill="#f48a6a" transform="rotate(15 1704.7 534.4)"/>
<ellipse cx="1651.9" cy="578.9" rx="18" ry="18.5" fill="#f48a6a" transform="rotate(10 1651.9 578.9)"/>
<ellipse cx="1581.1" cy="578.9" rx="17" ry="16" fill="#f48a6a" transform="rotate(0 1581.1 578.9)"/>
<path d="M1622 472 Q1632 456 1650 458 Q1658 461 1659 470 Q1650 462 1638 464 Q1628 467 1622 472 Z" fill="#f48a6a"/>
<circle cx="1647" cy="476.5" r="6" fill="#f48a6a"/>
<circle cx="1649" cy="475" r="1.6" fill="#f6cdb9"/>
<path d="M1636 500 Q1656 496 1663 510 Q1657 519 1659 527 Q1651 527 1648 534 Q1646 513 1636 500 Z" fill="#f48a6a"/>
<path d="M1734.8 376.3C1737.7 371.8 1753.6 367.3 1760.7 368C1767.8 368.6 1771.2 376.6 1777.4 380C1783.6 383.4 1793.8 385.7 1797.8 388.3C1801.8 391 1801.9 392.2 1801.5 395.7C1801 399.3 1795.9 405.2 1795 409.6C1794.1 414.1 1797.9 419.5 1795.9 422.6C1793.9 425.7 1787.9 427.8 1783 428.1C1778 428.5 1772.5 423.7 1766.3 424.4C1760.1 425.2 1750.2 432.5 1745.9 432.8C1741.6 433.1 1741.1 430.2 1740.4 426.3C1739.6 422.4 1742.2 413.3 1741.3 409.6C1740.4 405.9 1734.5 406.5 1734.8 404.1C1735.1 401.6 1743.1 399.4 1743.1 394.8C1743.1 390.2 1731.9 380.8 1734.8 376.3Z" fill="#c5c1ed"/>
<path d="M1752 403C1754.7 401.2 1761.3 399.5 1765 400C1768.7 400.5 1772.8 403.3 1774 406C1775.2 408.7 1774 413.5 1772 416C1770 418.5 1765.3 420.5 1762 421C1758.7 421.5 1754.2 420.7 1752 419C1749.8 417.3 1749 413.7 1749 411C1749 408.3 1749.3 404.8 1752 403Z" fill="#9189dd"/>
<path d="M1729.6 553C1732.7 548.6 1740.9 538.7 1745.2 537.4C1749.5 536.1 1752.1 542.2 1755.6 545.2C1759 548.2 1763.8 551.2 1765.9 555.6C1768.1 559.9 1767 566.8 1768.5 571.1C1770 575.4 1775.4 578.5 1775 581.5C1774.6 584.5 1770 586.7 1765.9 589.3C1761.8 591.9 1755.1 597 1750.4 597C1745.6 597 1742.2 592.7 1737.4 589.3C1732.7 585.8 1723.6 580.6 1721.9 576.3C1720.1 572 1725.8 567.2 1727 563.3C1728.3 559.5 1726.6 557.3 1729.6 553Z" fill="#c5c1ed"/>
<ellipse cx="1743.9" cy="571.1" rx="9.5" ry="8" fill="#9189dd" transform="rotate(-20 1743.9 571.1)"/>
<path d="M1582.9 391.5C1578.6 388.6 1573.1 387.4 1570.8 387A1.9 1.9 0 0 1 1571.4 383.2C1573.7 383.6 1579.4 384.3 1584.4 383.1A20 20 0 0 1 1584.4 383.1C1581.4 378.5 1576.4 374.8 1574.2 373.2A1.9 1.9 0 0 1 1576.3 370.1C1578.6 371.6 1583.8 374.9 1589.2 376A20 20 0 0 1 1591.2 374.4C1592.8 365.3 1590.8 355.9 1589.3 350.9A1.9 1.9 0 0 1 1593 349.8C1594.4 354.8 1597.8 363.8 1604.1 370.6A20 20 0 0 1 1609 371.5C1615.8 366.3 1621.3 358.2 1624.3 353.6A1.9 1.9 0 0 1 1627.5 355.6C1624.5 360.2 1619.5 368.7 1617.6 377.1A20 20 0 0 1 1618.4 377.9C1626.5 375.7 1635.9 371.2 1641.1 368.4A1.9 1.9 0 0 1 1642.9 371.8C1637.7 374.5 1628.6 379.6 1622.1 385.1A20 20 0 0 1 1622.1 385.1C1629.3 386.4 1638.2 386 1643 385.6A1.9 1.9 0 0 1 1643.2 389.4C1638.5 389.8 1629.7 390.8 1622.7 393.1A20 20 0 0 1 1620.9 399.4C1620.7 409.2 1623.3 416.2 1625.4 419.1A1.9 1.9 0 0 1 1622.3 421.2C1620.2 418.4 1614.5 413.5 1605.2 410.5A20 20 0 0 1 1603.6 410.6C1597.5 412.5 1595.1 415 1595 415.4A1.9 1.9 0 0 1 1591.4 414C1591.6 413.6 1591.6 410.2 1588.6 404.6A20 20 0 0 1 1586.7 402.3C1579.7 401.6 1572.5 404 1569 405.3A1.9 1.9 0 0 1 1567.7 401.8C1571.2 400.4 1578.1 397.5 1583 392.5A20 20 0 0 1 1582.9 391.5Z" fill="#ffd03d"/>
<ellipse cx="1602.5" cy="390.8" rx="11.5" ry="13" fill="#efab22" transform="rotate(20 1602.5 390.8)"/>
<path d="M1546.3 547.4C1542 544.5 1536.5 543.3 1534.2 542.9A1.9 1.9 0 0 1 1534.8 539.1C1537.1 539.5 1542.8 540.2 1547.8 539A20 20 0 0 1 1547.8 539C1544.8 534.4 1539.8 530.7 1537.6 529.1A1.9 1.9 0 0 1 1539.7 526C1542 527.5 1547.2 530.8 1552.6 531.9A20 20 0 0 1 1554.6 530.3C1556.2 521.2 1554.2 511.8 1552.7 506.8A1.9 1.9 0 0 1 1556.4 505.7C1557.8 510.7 1561.2 519.7 1567.5 526.5A20 20 0 0 1 1572.4 527.4C1579.2 522.2 1584.7 514.1 1587.7 509.5A1.9 1.9 0 0 1 1590.9 511.5C1587.9 516.1 1582.9 524.6 1581 533A20 20 0 0 1 1581.8 533.8C1589.9 531.6 1599.3 527.1 1604.5 524.3A1.9 1.9 0 0 1 1606.3 527.7C1601.1 530.4 1592 535.5 1585.5 541A20 20 0 0 1 1585.5 541C1592.7 542.3 1601.6 541.9 1606.4 541.5A1.9 1.9 0 0 1 1606.6 545.3C1601.9 545.7 1593.1 546.7 1586.1 549A20 20 0 0 1 1584.3 555.3C1584.1 565.1 1586.7 572.1 1588.8 575A1.9 1.9 0 0 1 1585.7 577.1C1583.6 574.3 1577.9 569.4 1568.6 566.4A20 20 0 0 1 1567 566.5C1560.9 568.4 1558.5 570.9 1558.4 571.3A1.9 1.9 0 0 1 1554.8 569.9C1555 569.5 1555 566.1 1552 560.5A20 20 0 0 1 1550.1 558.2C1543.1 557.5 1535.9 559.9 1532.4 561.2A1.9 1.9 0 0 1 1531.1 557.7C1534.6 556.3 1541.5 553.4 1546.4 548.4A20 20 0 0 1 1546.3 547.4Z" fill="#ffd03d"/>
<ellipse cx="1565.8" cy="547" rx="11.5" ry="13" fill="#efab22" transform="rotate(20 1565.8 547)"/>
<path d="M1749.2 509.2C1746.9 502.3 1743.1 498.7 1741.5 497.8A1.9 1.9 0 0 1 1743.4 494.5C1745 495.4 1750 496.9 1757.1 495.3A21 21 0 0 1 1759.2 493.9C1760.8 486.9 1759.1 479.7 1758.1 476.2A1.9 1.9 0 0 1 1761.7 475.2C1762.7 478.7 1765 485.8 1769.9 490.9A21 21 0 0 1 1770.7 490.9C1774.4 487.4 1776 482.6 1776.5 480.8A1.9 1.9 0 0 1 1780.1 481.8C1779.6 483.6 1778.6 488.6 1780 493.4A21 21 0 0 1 1780 493.4C1785.1 491.7 1788.9 487.8 1790.4 486.2A1.9 1.9 0 0 1 1793.3 488.7C1791.8 490.3 1788.3 494.6 1787.2 499.9A21 21 0 0 1 1788.4 501.7C1796.9 504.5 1806 503.8 1810.8 502.9A1.9 1.9 0 0 1 1811.4 506.7C1806.6 507.5 1797.8 509.8 1790.7 515.4A21 21 0 0 1 1789 520.9C1792.8 528.1 1799.7 534.2 1803.6 537.4A1.9 1.9 0 0 1 1801.1 540.3C1797.3 537.1 1790 531.5 1782.2 529A21 21 0 0 1 1781.4 529.6C1782.3 537.9 1785.7 547.6 1787.8 552.9A1.9 1.9 0 0 1 1784.2 554.3C1782.2 548.9 1778.2 539.5 1773.4 532.6A21 21 0 0 1 1773.4 532.6C1770.9 539.2 1770.3 547.5 1770.1 551.8A1.9 1.9 0 0 1 1766.3 551.6C1766.5 547.3 1766.6 539 1764.8 532.2A21 21 0 0 1 1758.7 529.6C1748.7 528 1741.3 529.5 1738.3 531.2A1.9 1.9 0 0 1 1736.5 527.8C1739.5 526.2 1744.9 520.9 1749 511.6A21 21 0 0 1 1749.2 509.2Z" fill="#ffd03d"/>
<ellipse cx="1769.5" cy="511.5" rx="12.5" ry="11.5" fill="#efab22" transform="rotate(30 1769.5 511.5)"/>
<line x1="1524.1" y1="306.2" x2="1526.2" y2="304.9" stroke="#6bd0e1" stroke-width="1.9" stroke-linecap="round"/>
<path d="M0 -0.9 C2.9 -1.1 4.1 -3.4 9.5 -3.4 A3.4 3.4 0 1 1 9.5 3.4 C4.1 3.4 2.9 1.1 0 0.9 Z" fill="#6bd0e1" transform="translate(1526.2 304.9) rotate(-31)"/>
<line x1="1476.7" y1="326.3" x2="1474.3" y2="327" stroke="#6bd0e1" stroke-width="1.9" stroke-linecap="round"/>
<path d="M0 -0.9 C2.9 -1.1 4.1 -3.4 9.5 -3.4 A3.4 3.4 0 1 1 9.5 3.4 C4.1 3.4 2.9 1.1 0 0.9 Z" fill="#6bd0e1" transform="translate(1474.3 327) rotate(165)"/>
<line x1="1525.2" y1="331" x2="1527.4" y2="332.1" stroke="#6bd0e1" stroke-width="1.9" stroke-linecap="round"/>
<path d="M0 -0.9 C2.9 -1.1 4.1 -3.4 9.5 -3.4 A3.4 3.4 0 1 1 9.5 3.4 C4.1 3.4 2.9 1.1 0 0.9 Z" fill="#6bd0e1" transform="translate(1527.4 332.1) rotate(26)"/>
<line x1="1509.8" y1="344.3" x2="1510.6" y2="346.7" stroke="#6bd0e1" stroke-width="1.9" stroke-linecap="round"/>
<path d="M0 -0.9 C2.8 -1.1 4.1 -3.4 9.5 -3.4 A3.4 3.4 0 1 1 9.5 3.4 C4.1 3.4 2.8 1.1 0 0.9 Z" fill="#6bd0e1" transform="translate(1510.6 346.7) rotate(72)"/>
<circle cx="1501.8" cy="319.6" r="27.2" fill="#a3e4ee"/>
<ellipse cx="1507.3" cy="312.4" rx="11.5" ry="11" fill="#6bd0e1"/>
<line x1="1651" y1="310.4" x2="1648.7" y2="309.6" stroke="#6bd0e1" stroke-width="1.9" stroke-linecap="round"/>
<path d="M0 -0.9 C2.9 -1.1 4.1 -3.4 9.5 -3.4 A3.4 3.4 0 1 1 9.5 3.4 C4.1 3.4 2.9 1.1 0 0.9 Z" fill="#6bd0e1" transform="translate(1648.7 309.6) rotate(-161)"/>
<line x1="1701.5" y1="321.2" x2="1704" y2="321.4" stroke="#6bd0e1" stroke-width="1.9" stroke-linecap="round"/>
<path d="M0 -0.9 C2.9 -1.1 4.1 -3.4 9.5 -3.4 A3.4 3.4 0 1 1 9.5 3.4 C4.1 3.4 2.9 1.1 0 0.9 Z" fill="#6bd0e1" transform="translate(1704 321.4) rotate(5)"/>
<line x1="1668" y1="343.8" x2="1667.3" y2="346.2" stroke="#6bd0e1" stroke-width="1.9" stroke-linecap="round"/>
<path d="M0 -0.9 C2.9 -1.1 4.1 -3.4 9.5 -3.4 A3.4 3.4 0 1 1 9.5 3.4 C4.1 3.4 2.9 1.1 0 0.9 Z" fill="#6bd0e1" transform="translate(1667.3 346.2) rotate(107)"/>
<line x1="1688.2" y1="341.6" x2="1689.4" y2="343.8" stroke="#6bd0e1" stroke-width="1.9" stroke-linecap="round"/>
<path d="M0 -0.9 C2.8 -1.1 4.1 -3.4 9.5 -3.4 A3.4 3.4 0 1 1 9.5 3.4 C4.1 3.4 2.8 1.1 0 0.9 Z" fill="#6bd0e1" transform="translate(1689.4 343.8) rotate(61)"/>
<circle cx="1675.6" cy="318.9" r="27.2" fill="#a3e4ee"/>
<ellipse cx="1683.4" cy="315" rx="11.5" ry="11" fill="#6bd0e1"/>
<line x1="1438.8" y1="444" x2="1439.4" y2="441.5" stroke="#6bd0e1" stroke-width="1.9" stroke-linecap="round"/>
<path d="M0 -0.9 C2.8 -1.1 4.1 -3.4 9.5 -3.4 A3.4 3.4 0 1 1 9.5 3.4 C4.1 3.4 2.8 1.1 0 0.9 Z" fill="#6bd0e1" transform="translate(1439.4 441.5) rotate(-77)"/>
<line x1="1414" y1="451.6" x2="1412.2" y2="449.9" stroke="#6bd0e1" stroke-width="1.9" stroke-linecap="round"/>
<path d="M0 -0.9 C2.8 -1.1 4.1 -3.4 9.5 -3.4 A3.4 3.4 0 1 1 9.5 3.4 C4.1 3.4 2.8 1.1 0 0.9 Z" fill="#6bd0e1" transform="translate(1412.2 449.9) rotate(-137)"/>
<line x1="1456.6" y1="458.3" x2="1458.8" y2="457.3" stroke="#6bd0e1" stroke-width="1.9" stroke-linecap="round"/>
<path d="M0 -0.9 C2.9 -1.1 4.1 -3.4 9.5 -3.4 A3.4 3.4 0 1 1 9.5 3.4 C4.1 3.4 2.9 1.1 0 0.9 Z" fill="#6bd0e1" transform="translate(1458.8 457.3) rotate(-25)"/>
<line x1="1446" y1="491.8" x2="1447.2" y2="494" stroke="#6bd0e1" stroke-width="1.9" stroke-linecap="round"/>
<path d="M0 -0.9 C2.9 -1.1 4.1 -3.4 9.5 -3.4 A3.4 3.4 0 1 1 9.5 3.4 C4.1 3.4 2.9 1.1 0 0.9 Z" fill="#6bd0e1" transform="translate(1447.2 494) rotate(60)"/>
<circle cx="1433" cy="469.3" r="27.2" fill="#a3e4ee"/>
<ellipse cx="1425" cy="466.3" rx="11.5" ry="11" fill="#6bd0e1"/>
<line x1="1572.8" y1="448.4" x2="1573.6" y2="446" stroke="#6bd0e1" stroke-width="1.9" stroke-linecap="round"/>
<path d="M0 -0.9 C2.8 -1.1 4.1 -3.4 9.5 -3.4 A3.4 3.4 0 1 1 9.5 3.4 C4.1 3.4 2.8 1.1 0 0.9 Z" fill="#6bd0e1" transform="translate(1573.6 446) rotate(-70)"/>
<line x1="1589.8" y1="475.1" x2="1592.3" y2="475.3" stroke="#6bd0e1" stroke-width="1.9" stroke-linecap="round"/>
<path d="M0 -0.9 C2.9 -1.1 4.1 -3.4 9.5 -3.4 A3.4 3.4 0 1 1 9.5 3.4 C4.1 3.4 2.9 1.1 0 0.9 Z" fill="#6bd0e1" transform="translate(1592.3 475.3) rotate(5)"/>
<line x1="1545.5" y1="491.2" x2="1543.7" y2="493" stroke="#6bd0e1" stroke-width="1.9" stroke-linecap="round"/>
<path d="M0 -0.9 C2.8 -1.1 4.1 -3.4 9.5 -3.4 A3.4 3.4 0 1 1 9.5 3.4 C4.1 3.4 2.8 1.1 0 0.9 Z" fill="#6bd0e1" transform="translate(1543.7 493) rotate(135)"/>
<line x1="1582.3" y1="491.2" x2="1584.1" y2="493" stroke="#6bd0e1" stroke-width="1.9" stroke-linecap="round"/>
<path d="M0 -0.9 C2.8 -1.1 4.1 -3.4 9.5 -3.4 A3.4 3.4 0 1 1 9.5 3.4 C4.1 3.4 2.8 1.1 0 0.9 Z" fill="#6bd0e1" transform="translate(1584.1 493) rotate(45)"/>
<circle cx="1563.9" cy="472.8" r="27.2" fill="#a3e4ee"/>
<ellipse cx="1563.9" cy="463.5" rx="11.5" ry="11" fill="#6bd0e1"/>
<line x1="1665.8" y1="449.9" x2="1663.3" y2="449.5" stroke="#6bd0e1" stroke-width="1.9" stroke-linecap="round"/>
<path d="M0 -0.9 C2.8 -1.1 4.1 -3.4 9.5 -3.4 A3.4 3.4 0 1 1 9.5 3.4 C4.1 3.4 2.8 1.1 0 0.9 Z" fill="#6bd0e1" transform="translate(1663.3 449.5) rotate(-170)"/>
<line x1="1717.3" y1="456.7" x2="1719.8" y2="456.9" stroke="#6bd0e1" stroke-width="1.9" stroke-linecap="round"/>
<path d="M0 -0.9 C2.9 -1.1 4.1 -3.4 9.5 -3.4 A3.4 3.4 0 1 1 9.5 3.4 C4.1 3.4 2.9 1.1 0 0.9 Z" fill="#6bd0e1" transform="translate(1719.8 456.9) rotate(5)"/>
<line x1="1682.5" y1="478.8" x2="1681.7" y2="481.2" stroke="#6bd0e1" stroke-width="1.9" stroke-linecap="round"/>
<path d="M0 -0.9 C2.8 -1.1 4.1 -3.4 9.5 -3.4 A3.4 3.4 0 1 1 9.5 3.4 C4.1 3.4 2.8 1.1 0 0.9 Z" fill="#6bd0e1" transform="translate(1681.7 481.2) rotate(110)"/>
<line x1="1706.3" y1="475.7" x2="1707.7" y2="477.7" stroke="#6bd0e1" stroke-width="1.9" stroke-linecap="round"/>
<path d="M0 -0.9 C2.8 -1.1 4.1 -3.4 9.5 -3.4 A3.4 3.4 0 1 1 9.5 3.4 C4.1 3.4 2.8 1.1 0 0.9 Z" fill="#6bd0e1" transform="translate(1707.7 477.7) rotate(55)"/>
<circle cx="1691.4" cy="454.4" r="27.2" fill="#a3e4ee"/>
<ellipse cx="1697.9" cy="449.3" rx="11.5" ry="11" fill="#6bd0e1"/>
<line x1="1581.9" y1="614.7" x2="1579.4" y2="614.3" stroke="#6bd0e1" stroke-width="1.9" stroke-linecap="round"/>
<path d="M0 -0.9 C2.8 -1.1 4.1 -3.4 9.5 -3.4 A3.4 3.4 0 1 1 9.5 3.4 C4.1 3.4 2.8 1.1 0 0.9 Z" fill="#6bd0e1" transform="translate(1579.4 614.3) rotate(-170)"/>
<line x1="1633.4" y1="621.5" x2="1635.9" y2="621.7" stroke="#6bd0e1" stroke-width="1.9" stroke-linecap="round"/>
<path d="M0 -0.9 C2.9 -1.1 4.1 -3.4 9.5 -3.4 A3.4 3.4 0 1 1 9.5 3.4 C4.1 3.4 2.9 1.1 0 0.9 Z" fill="#6bd0e1" transform="translate(1635.9 621.7) rotate(5)"/>
<line x1="1603" y1="644.8" x2="1602.6" y2="647.3" stroke="#6bd0e1" stroke-width="1.9" stroke-linecap="round"/>
<path d="M0 -0.9 C2.9 -1.1 4.1 -3.4 9.5 -3.4 A3.4 3.4 0 1 1 9.5 3.4 C4.1 3.4 2.9 1.1 0 0.9 Z" fill="#6bd0e1" transform="translate(1602.6 647.3) rotate(100)"/>
<line x1="1624.2" y1="639.1" x2="1625.8" y2="641" stroke="#6bd0e1" stroke-width="1.9" stroke-linecap="round"/>
<path d="M0 -0.9 C2.8 -1.1 4.1 -3.4 9.5 -3.4 A3.4 3.4 0 1 1 9.5 3.4 C4.1 3.4 2.8 1.1 0 0.9 Z" fill="#6bd0e1" transform="translate(1625.8 641) rotate(50)"/>
<circle cx="1607.5" cy="619.2" r="27.2" fill="#a3e4ee"/>
<ellipse cx="1614.7" cy="614.5" rx="11.5" ry="11" fill="#6bd0e1"/>
<line x1="1715.6" y1="578.3" x2="1716" y2="575.8" stroke="#6bd0e1" stroke-width="1.9" stroke-linecap="round"/>
<path d="M0 -0.9 C2.9 -1.1 4.1 -3.4 9.5 -3.4 A3.4 3.4 0 1 1 9.5 3.4 C4.1 3.4 2.9 1.1 0 0.9 Z" fill="#6bd0e1" transform="translate(1716 575.8) rotate(-80)"/>
<line x1="1685.5" y1="599.4" x2="1683" y2="599" stroke="#6bd0e1" stroke-width="1.9" stroke-linecap="round"/>
<path d="M0 -0.9 C2.8 -1.1 4.1 -3.4 9.5 -3.4 A3.4 3.4 0 1 1 9.5 3.4 C4.1 3.4 2.8 1.1 0 0.9 Z" fill="#6bd0e1" transform="translate(1683 599) rotate(-170)"/>
<line x1="1691.2" y1="620.6" x2="1689.3" y2="622.2" stroke="#6bd0e1" stroke-width="1.9" stroke-linecap="round"/>
<path d="M0 -0.9 C2.8 -1.1 4.1 -3.4 9.5 -3.4 A3.4 3.4 0 1 1 9.5 3.4 C4.1 3.4 2.8 1.1 0 0.9 Z" fill="#6bd0e1" transform="translate(1689.3 622.2) rotate(140)"/>
<line x1="1711.1" y1="629.9" x2="1711.1" y2="632.4" stroke="#6bd0e1" stroke-width="1.9" stroke-linecap="round"/>
<path d="M0 -0.9 C2.9 -1.1 4.1 -3.4 9.5 -3.4 A3.4 3.4 0 1 1 9.5 3.4 C4.1 3.4 2.9 1.1 0 0.9 Z" fill="#6bd0e1" transform="translate(1711.1 632.4) rotate(90)"/>
<circle cx="1711.1" cy="603.9" r="27.2" fill="#a3e4ee"/>
<ellipse cx="1716.3" cy="610.4" rx="11.5" ry="11" fill="#6bd0e1"/>
<g transform="translate(1697.7 371.3) rotate(25)" fill="none" stroke-linecap="round" stroke-linejoin="round" stroke-width="2.6"><path d="M18.7 -2 L0 -2 L-5.2 -6.5" stroke="#00e27b"/><path d="M18.7 2 L0 2 L-5.2 6.5" stroke="#00e27b"/><path d="M-5.2 -6.5 L-8.7 -9.7" stroke="#6bd0e1"/><path d="M-5.2 6.5 L-8.5 8.8" stroke="#ec6748"/><path d="M1.4 -5.8 L-3.8 -10" stroke="#00e27b"/><path d="M-3.8 -10 L-6.4 -12" stroke="#6bd0e1"/><path d="M1.4 6 L-2.4 9.5" stroke="#00e27b"/><path d="M-2.4 9.5 L-6.4 11.9" stroke="#ec6748"/></g>
<g transform="translate(1610.1 502.2) rotate(64)" fill="none" stroke-linecap="round" stroke-linejoin="round" stroke-width="2.6"><path d="M18.7 -2 L0 -2 L-5.2 -6.5" stroke="#00e27b"/><path d="M18.7 2 L0 2 L-5.2 6.5" stroke="#00e27b"/><path d="M-5.2 -6.5 L-8.7 -9.7" stroke="#ec6748"/><path d="M-5.2 6.5 L-8.5 8.8" stroke="#6bd0e1"/><path d="M1.4 -5.8 L-3.8 -10" stroke="#00e27b"/><path d="M-3.8 -10 L-6.4 -12" stroke="#ec6748"/><path d="M1.4 6 L-2.4 9.5" stroke="#00e27b"/><path d="M-2.4 9.5 L-6.4 11.9" stroke="#6bd0e1"/></g>
<g transform="translate(218.7 908.3) rotate(90)" fill="none" stroke-linecap="round" stroke-linejoin="round" stroke-width="3.5"><path d="M22.1 -2.7 L0 -2.7 L-6.9 -8.6" stroke="#00e27b"/><path d="M22.1 2.7 L0 2.7 L-6.9 8.6" stroke="#00e27b"/><path d="M-6.9 -8.6 L-11.5 -12.8" stroke="#6bd0e1"/><path d="M-6.9 8.6 L-11.2 11.7" stroke="#ec6748"/><path d="M1.8 -7.7 L-5 -13.2" stroke="#00e27b"/><path d="M-5 -13.2 L-8.5 -15.9" stroke="#6bd0e1"/><path d="M1.8 7.9 L-3.2 12.5" stroke="#00e27b"/><path d="M-3.2 12.5 L-8.5 15.8" stroke="#ec6748"/></g>
<text x="242.5" y="918.7" font-size="22.2" font-weight="normal" text-anchor="start" fill="#082e28">DLL3/CD3 T-cell engager</text>
<path d="M215 945.3C217.1 945.4 221 948 223.3 949.2C225.7 950.4 228 950.1 229.2 952.5C230.3 954.9 229.4 960.1 230.3 963.3C231.2 966.5 234.2 969 234.7 971.7C235.1 974.3 234.8 977.2 233 979.2C231.2 981.1 226.6 982.4 224.2 983.3C221.7 984.2 220.4 984.9 218.3 984.7C216.2 984.4 213.9 983.1 211.7 982C209.4 980.9 207.4 979.5 205 977.8C202.6 976.2 198.6 973.9 197.5 972C196.4 970.1 197.5 968.4 198.7 966.7C199.9 964.9 203.4 963.3 204.7 961.3C205.9 959.4 205.3 957.1 206.3 955C207.4 952.9 209.4 950.3 210.8 948.7C212.3 947.1 212.9 945.2 215 945.3Z" fill="#c5c1ed"/>
<ellipse cx="213.3" cy="968.3" rx="6.7" ry="5.6" fill="#9189dd" transform="rotate(15 213.3 968.3)"/>
<text x="242.5" y="975.8" font-size="22.2" font-weight="normal" text-anchor="start" fill="#082e28">Macrophage</text>
<path d="M582.4 913C582.6 913.4 582.9 913.9 583 914.3C583.1 914.7 583.2 915.2 583.1 915.6C583 916.1 582.9 916.5 582.6 916.9C582.4 917.3 582 917.6 581.7 918C581.4 918.3 581 918.6 580.7 918.9C580.4 919.3 580.2 919.6 580 919.9C579.8 920.3 579.8 920.7 579.7 921.1C579.6 921.6 579.7 922 579.6 922.5C579.6 923 579.5 923.5 579.4 923.9C579.3 924.4 579.1 924.8 578.8 925.1C578.5 925.4 578.1 925.7 577.7 925.9C577.3 926.1 576.8 926.2 576.3 926.3C575.9 926.4 575.4 926.5 575 926.6C574.5 926.7 574.2 926.8 573.8 927C573.5 927.3 573.2 927.6 572.9 927.9C572.6 928.2 572.4 928.6 572.1 929C571.8 929.4 571.5 929.8 571.2 930.1C570.8 930.4 570.4 930.6 570 930.8C569.6 930.9 569.1 930.9 568.7 930.8C568.2 930.8 567.7 930.6 567.3 930.4C566.9 930.3 566.4 930 566 929.9C565.6 929.8 565.2 929.7 564.8 929.7C564.4 929.7 564 929.8 563.6 929.9C563.2 930 562.7 930.3 562.3 930.4C561.9 930.6 561.4 930.8 560.9 930.8C560.5 930.9 560 930.9 559.6 930.8C559.2 930.6 558.8 930.4 558.4 930.1C558.1 929.8 557.8 929.4 557.5 929C557.2 928.6 557 928.2 556.7 927.9C556.4 927.6 556.1 927.3 555.8 927C555.4 926.8 555.1 926.7 554.6 926.6C554.2 926.5 553.7 926.4 553.3 926.3C552.8 926.2 552.3 926.1 551.9 925.9C551.5 925.7 551.1 925.4 550.8 925.1C550.5 924.8 550.3 924.4 550.2 923.9C550.1 923.5 550 923 550 922.5C549.9 922 550 921.6 549.9 921.1C549.8 920.7 549.8 920.3 549.6 919.9C549.4 919.6 549.2 919.3 548.9 918.9C548.6 918.6 548.2 918.3 547.9 918C547.6 917.6 547.2 917.3 547 916.9C546.7 916.5 546.6 916.1 546.5 915.6C546.4 915.2 546.5 914.7 546.6 914.3C546.7 913.9 547 913.4 547.2 913C547.4 912.6 547.7 912.2 547.9 911.8C548.1 911.4 548.2 911 548.3 910.6C548.3 910.2 548.3 909.8 548.2 909.4C548.2 909 548 908.5 547.9 908C547.8 907.6 547.7 907.1 547.7 906.6C547.7 906.2 547.8 905.7 548 905.3C548.2 904.9 548.5 904.6 548.8 904.3C549.1 904 549.6 903.7 550 903.5C550.4 903.2 550.9 903.1 551.2 902.8C551.6 902.6 551.9 902.4 552.2 902.1C552.4 901.8 552.6 901.4 552.8 901C553 900.6 553.1 900.1 553.3 899.7C553.5 899.3 553.6 898.8 553.9 898.4C554.1 898 554.4 897.7 554.8 897.4C555.2 897.2 555.6 897.1 556.1 897C556.5 896.9 557 897 557.5 897C558 897 558.4 897.1 558.9 897.1C559.3 897.1 559.7 897.1 560.1 897C560.5 896.9 560.8 896.7 561.2 896.4C561.6 896.2 561.9 895.8 562.3 895.6C562.7 895.3 563.1 895 563.5 894.8C563.9 894.6 564.4 894.5 564.8 894.5C565.2 894.5 565.7 894.6 566.1 894.8C566.5 895 566.9 895.3 567.3 895.6C567.7 895.8 568 896.2 568.4 896.4C568.8 896.7 569.1 896.9 569.5 897C569.9 897.1 570.3 897.1 570.7 897.1C571.2 897.1 571.6 897 572.1 897C572.6 897 573.1 896.9 573.5 897C574 897.1 574.4 897.2 574.8 897.4C575.2 897.7 575.5 898 575.7 898.4C576 898.8 576.1 899.3 576.3 899.7C576.5 900.1 576.6 900.6 576.8 901C577 901.4 577.2 901.8 577.4 902.1C577.7 902.4 578 902.6 578.4 902.8C578.7 903.1 579.2 903.2 579.6 903.5C580 903.7 580.5 904 580.8 904.3C581.1 904.6 581.4 904.9 581.6 905.3C581.8 905.7 581.9 906.2 581.9 906.6C581.9 907.1 581.8 907.6 581.7 908C581.6 908.5 581.4 909 581.4 909.4C581.3 909.8 581.3 910.2 581.3 910.6C581.4 911 581.5 911.4 581.7 911.8C581.9 912.2 582.2 912.6 582.4 913Z" fill="#f6cdb9"/>
<ellipse cx="565.6" cy="912.3" rx="6.3" ry="7.4" fill="#f48a6a" transform="rotate(25 565.6 912.3)"/>
<text x="593.5" y="918.8" font-size="22.2" font-weight="normal" text-anchor="start" fill="#082e28">Cancer cell</text>
<path d="M556.7 953.9C557.3 952.9 558.7 951.9 559.4 952.2C560.2 952.6 560.2 955.2 561.1 956.1C562 957 563.7 957.9 565 957.8C566.3 957.7 567.8 955.6 568.9 955.6C570 955.6 570.4 957.1 571.7 957.8C573 958.4 575.5 958.5 576.7 959.4C577.9 960.4 578.4 962.1 578.9 963.3C579.4 964.5 580 965.7 579.4 966.7C578.9 967.6 576.5 967.8 575.6 968.9C574.6 970 573.8 971.9 573.9 973.3C574 974.8 575.3 976.8 576.1 977.8C576.9 978.8 579.2 978.7 578.9 979.4C578.6 980.2 576.1 981.7 574.4 982.2C572.8 982.8 570.5 982.1 568.9 982.8C567.3 983.4 565.9 985.1 565 986.1C564.1 987.1 564.2 988.6 563.3 988.9C562.5 989.2 561.1 988.3 560 987.8C558.9 987.2 557.8 985.9 556.7 985.6C555.6 985.2 554.4 986 553.3 985.6C552.2 985.1 550.6 983.9 550 982.8C549.4 981.7 549.9 980.1 549.4 978.9C549 977.7 547.6 976.6 547.2 975.6C546.9 974.5 546.5 973.3 547.2 972.8C548 972.2 550.9 972.7 551.7 972.2C552.4 971.8 552.1 971 551.7 970C551.2 969 549.4 967.2 548.9 966.1C548.3 965 547.8 963.7 548.3 963.3C548.9 963 551.1 964.1 552.2 963.9C553.3 963.7 554.4 963.1 555 962.2C555.6 961.3 555.3 959.7 555.6 958.3C555.8 956.9 556 954.9 556.7 953.9Z" fill="#f6cdb9"/>
<circle cx="563.9" cy="950.3" r="1.1" fill="#f6cdb9"/>
<circle cx="560.3" cy="950" r="0.7" fill="#f6cdb9"/>
<circle cx="570.3" cy="951.9" r="0.7" fill="#f6cdb9"/>
<circle cx="576.1" cy="952.8" r="1" fill="#f6cdb9"/>
<circle cx="573.3" cy="956.1" r="1.1" fill="#f6cdb9"/>
<circle cx="564.2" cy="954.7" r="1.4" fill="#f6cdb9"/>
<circle cx="551.4" cy="958.6" r="1.4" fill="#f6cdb9"/>
<circle cx="553.9" cy="960.8" r="0.8" fill="#f6cdb9"/>
<circle cx="547.5" cy="960.8" r="0.7" fill="#f6cdb9"/>
<circle cx="547.2" cy="967.2" r="1" fill="#f6cdb9"/>
<circle cx="548.9" cy="970.3" r="0.6" fill="#f6cdb9"/>
<circle cx="545.6" cy="977.2" r="0.6" fill="#f6cdb9"/>
<circle cx="548.3" cy="978.1" r="0.6" fill="#f6cdb9"/>
<circle cx="581.7" cy="958.6" r="1" fill="#f6cdb9"/>
<circle cx="577.2" cy="972.5" r="1.6" fill="#f6cdb9"/>
<circle cx="582.2" cy="973.3" r="1.1" fill="#f6cdb9"/>
<circle cx="588.1" cy="973.9" r="0.7" fill="#f6cdb9"/>
<circle cx="584.4" cy="976.7" r="1.1" fill="#f6cdb9"/>
<circle cx="576.1" cy="984.4" r="0.7" fill="#f6cdb9"/>
<circle cx="571.9" cy="987.5" r="1.6" fill="#f6cdb9"/>
<circle cx="568.9" cy="990.8" r="0.8" fill="#f6cdb9"/>
<circle cx="563.9" cy="992.5" r="1" fill="#f6cdb9"/>
<circle cx="559.4" cy="990.3" r="1" fill="#f6cdb9"/>
<circle cx="556.7" cy="987.2" r="0.6" fill="#f6cdb9"/>
<circle cx="568.6" cy="984.7" r="0.7" fill="#f6cdb9"/>
<ellipse cx="564.4" cy="970.3" rx="6.4" ry="7.3" fill="#f48a6a" transform="rotate(20 564.4 970.3)"/>
<text x="593.5" y="975.5" font-size="22.2" font-weight="normal" text-anchor="start" fill="#082e28">Dying cancer cell</text>
<circle cx="827.5" cy="910" r="18" fill="#a3e4ee"/>
<ellipse cx="828" cy="903.5" rx="7.5" ry="6.9" fill="#6bd0e1"/>
<text x="852.5" y="918.8" font-size="22.2" font-weight="normal" text-anchor="start" fill="#082e28">Active T cell</text>
<circle cx="827.5" cy="966.2" r="17.5" fill="#d3f1f6"/>
<ellipse cx="825.5" cy="960" rx="7" ry="6.4" fill="#a4e3ee"/>
<text x="852.5" y="975.5" font-size="22.2" font-weight="normal" text-anchor="start" fill="#082e28">Inactive T cell</text>
<path d="M1055.8 911.6C1052.8 908.6 1048.7 906.8 1047 906.2A1.6 1.6 0 0 1 1048.2 903.2C1049.8 903.8 1054.1 905.1 1058.3 904.8A13.7 13.7 0 0 1 1058.7 904.3C1057.8 901.4 1055.9 898.7 1055.3 898A1.6 1.6 0 0 1 1057.9 896C1058.4 896.6 1060.7 899.1 1063.4 900.6A13.7 13.7 0 0 1 1063.4 900.6C1063.7 897.3 1063.1 893.6 1062.8 892.5A1.6 1.6 0 0 1 1066 891.8C1066.3 892.9 1067.4 896.4 1069.2 899.2A13.7 13.7 0 0 1 1070.5 899.2C1074.6 895.5 1077.1 890.2 1078.1 887.7A1.6 1.6 0 0 1 1081.1 889C1080.1 891.5 1078.1 896.9 1078.3 902.5A13.7 13.7 0 0 1 1080.7 905.1C1085.8 905 1091.5 903.2 1094.1 902.3A1.6 1.6 0 0 1 1095.2 905.4C1092.6 906.3 1087.1 908.5 1083 911.7A13.7 13.7 0 0 1 1083 912.5C1087.7 914.2 1093.8 915.5 1096.8 916A1.6 1.6 0 0 1 1096.2 919.3C1093.2 918.7 1087.1 917.9 1082.1 917.8A13.7 13.7 0 0 1 1082.1 917.8C1084.9 920.5 1088.7 923.3 1090.3 924.3A1.6 1.6 0 0 1 1088.5 927.1C1086.9 926.1 1082.8 923.7 1079.2 922.3A13.7 13.7 0 0 1 1075.1 925.2C1070.6 929.5 1069.1 933.1 1069 934.3A1.6 1.6 0 0 1 1065.7 934C1065.9 932.8 1065.1 929 1061.5 923.9A13.7 13.7 0 0 1 1060 922.7C1055.9 921.1 1053.2 921.9 1052.8 922A1.6 1.6 0 0 1 1051.5 919.1C1051.9 918.9 1054.2 917.4 1055.8 913.3A13.7 13.7 0 0 1 1055.8 911.6Z" fill="#ffd03d"/>
<ellipse cx="1069.4" cy="912.8" rx="7.6" ry="6.9" fill="#efab22"/>
<text x="1102" y="918.9" font-size="22.2" font-weight="normal" text-anchor="start" fill="#082e28">Mature antigen-presenting&#160; cell</text>
<path d="M1055.6 970.2C1053.1 968.1 1049.7 966.2 1048.8 965.7A1.8 1.8 0 0 1 1050.3 962.4C1051.3 962.9 1054.9 964.3 1058.1 964.9A13 13 0 0 1 1058.1 964.9C1056.9 961.9 1054.7 958.7 1054.1 957.9A1.8 1.8 0 0 1 1056.9 955.7C1057.6 956.5 1060.1 959.3 1062.8 961.2A13 13 0 0 1 1064 960.7C1066.2 955.7 1066.5 950 1066.5 947.5A1.8 1.8 0 0 1 1070.1 947.5C1070.1 950 1070.4 955.7 1072.6 960.7A13 13 0 0 1 1075.9 962.4C1080.5 960.2 1085.4 956.5 1087.6 954.8A1.8 1.8 0 0 1 1089.9 957.5C1087.7 959.3 1083.2 963.4 1080.1 967.5A13 13 0 0 1 1080.3 968.1C1085.4 967.9 1091.6 967 1094.4 966.5A1.8 1.8 0 0 1 1095 970.1C1092.2 970.6 1086.1 971.9 1081.3 973.5A13 13 0 0 1 1081.3 973.5C1085.3 975.2 1090.4 976.8 1092.5 977.3A1.8 1.8 0 0 1 1091.6 980.8C1089.5 980.3 1084.3 979.2 1079.9 978.8A13 13 0 0 1 1077.4 982.3C1075.1 988.2 1075.6 992.8 1076.1 994.4A1.8 1.8 0 0 1 1072.6 995.3C1072.2 993.8 1070.3 989.5 1065.3 985.6A13 13 0 0 1 1063.7 985.2C1059.3 986 1056.6 988.4 1056 989.1A1.8 1.8 0 0 1 1053.4 986.7C1054 986 1056.2 983.2 1056.6 978.7A13 13 0 0 1 1056 977.2C1051.6 976.3 1046.3 976.4 1044.2 976.6A1.8 1.8 0 0 1 1044 973C1046.1 972.8 1051.3 972.2 1055.5 970.6A13 13 0 0 1 1055.6 970.2Z" fill="#ffe366"/>
<ellipse cx="1067.3" cy="973" rx="7.2" ry="7.9" fill="#ffd23e"/>
<text x="1102" y="975.2" font-size="22.2" font-weight="normal" text-anchor="start" fill="#082e28">Immature antigen-presenting&#160; cell</text>
<circle cx="1532.9" cy="897.9" r="3.1" fill="#a5e4ee"/>
<circle cx="1542" cy="900.6" r="3.1" fill="#a5e4ee"/>
<circle cx="1557.1" cy="906" r="3.1" fill="#a5e4ee"/>
<circle cx="1523.7" cy="908.8" r="3.1" fill="#a5e4ee"/>
<circle cx="1538.2" cy="912" r="3.1" fill="#a5e4ee"/>
<circle cx="1529.1" cy="922" r="3.1" fill="#a5e4ee"/>
<circle cx="1549.4" cy="920.9" r="3.1" fill="#a5e4ee"/>
<circle cx="1532.9" cy="949.7" r="3.1" fill="#f6c9b3"/>
<circle cx="1542" cy="952.4" r="3.1" fill="#f6c9b3"/>
<circle cx="1557.1" cy="957.8" r="3.1" fill="#f6c9b3"/>
<circle cx="1523.7" cy="960.6" r="3.1" fill="#f6c9b3"/>
<circle cx="1538.2" cy="963.8" r="3.1" fill="#f6c9b3"/>
<circle cx="1529.1" cy="973.8" r="3.1" fill="#f6c9b3"/>
<circle cx="1549.4" cy="972.7" r="3.1" fill="#f6c9b3"/>
<text x="1571" y="919" font-size="22.2" font-weight="normal" text-anchor="start" fill="#082e28">Cytokines</text>
<text x="1571" y="975.5" font-size="22.2" font-weight="normal" text-anchor="start" fill="#082e28">Cancer antigens</text>
</svg>
</body></html>
